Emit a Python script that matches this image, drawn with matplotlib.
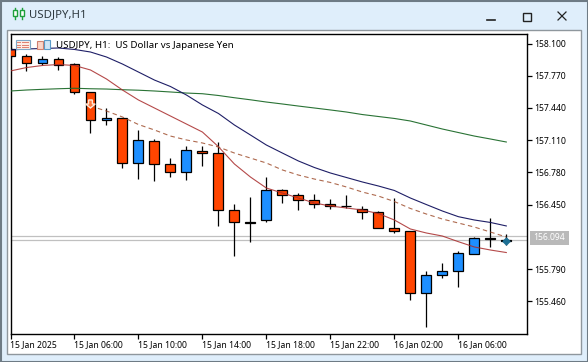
import matplotlib.pyplot as plt
from matplotlib.patches import Rectangle, Polygon
import numpy as np

plt.switch_backend('agg')
plt.rcParams['font.family'] = ['Noto Sans', 'DejaVu Sans']

W, H = 588, 362

# velas H1: apertura, maximo, minimo, cierre
opens = [158.044, 157.972, 157.897, 157.938, 157.887, 157.601, 157.314, 157.335, 156.874, 157.099,
         156.864, 156.782, 157.003, 156.976, 156.393, 156.276, 156.291, 156.598, 156.547, 156.495,
         156.455, 156.434, 156.403, 156.373, 156.209, 156.178, 155.544, 155.728, 155.769, 155.943,
         156.110, 156.082]
highs = [158.060, 157.993, 157.967, 157.962, 157.900, 157.601, 157.443, 157.335, 157.215, 157.123,
         156.925, 157.051, 157.051, 157.089, 156.455, 156.526, 156.731, 156.611, 156.567, 156.557,
         156.506, 156.547, 156.437, 156.390, 156.516, 156.178, 155.769, 155.851, 155.974, 156.120,
         156.311, 156.148]
lows = [157.950, 157.819, 157.875, 157.829, 157.580, 157.187, 157.269, 156.829, 156.710, 156.696,
        156.737, 156.706, 156.850, 156.236, 155.929, 156.072, 156.276, 156.471, 156.393, 156.420,
        156.404, 156.414, 156.301, 156.209, 156.158, 155.472, 155.202, 155.697, 155.605, 155.943,
        156.021, 156.038]
closes = [157.967, 157.897, 157.938, 157.877, 157.601, 157.314, 157.335, 156.874, 157.109, 156.864,
          156.782, 157.007, 156.976, 156.393, 156.270, 156.264, 156.598, 156.547, 156.495, 156.455,
          156.434, 156.434, 156.373, 156.209, 156.178, 155.544, 155.728, 155.769, 155.953, 156.107,
          156.098, 156.094]

# medias moviles
ma_navy = [158.033, 158.044, 158.049, 158.054, 158.039, 158.013, 157.962, 157.890, 157.808, 157.726,
           157.660, 157.573, 157.471, 157.384, 157.266, 157.164, 157.061, 156.979, 156.898, 156.831,
           156.775, 156.729, 156.683, 156.642, 156.596, 156.519, 156.452, 156.386, 156.328, 156.294,
           156.269, 156.233]
ma_red = [157.819, 157.854, 157.875, 157.885, 157.875, 157.829, 157.737, 157.624, 157.522, 157.440,
          157.358, 157.276, 157.194, 157.044, 156.867, 156.734, 156.621, 156.570, 156.519, 156.468,
          156.437, 156.417, 156.396, 156.360, 156.294, 156.202, 156.161, 156.130, 156.072, 156.018,
          155.987, 155.961]
ma_dash = [np.nan, np.nan, np.nan, np.nan, np.nan, 157.460, 157.409, 157.348, 157.271, 157.215,
           157.153, 157.113, 157.082, 157.041, 156.979, 156.928, 156.877, 156.806, 156.754, 156.713,
           156.678, 156.632, 156.580, 156.539, 156.483, 156.412, 156.355, 156.304, 156.263, 156.222,
           156.171, 156.120]
ma_green = [157.614, 157.624, 157.631, 157.637, 157.642, 157.637, 157.634, 157.627, 157.622, 157.614,
            157.604, 157.593, 157.586, 157.568, 157.545, 157.524, 157.501, 157.481, 157.460, 157.440,
            157.420, 157.399, 157.373, 157.353, 157.333, 157.307, 157.266, 157.225, 157.189, 157.153,
            157.123, 157.092]

ytick_vals = [158.100, 157.770, 157.440, 157.110, 156.780, 156.450, 155.790, 155.460]
xtick_idx = [0, 4, 8, 12, 16, 20, 24, 28]
xtick_labels = ['15 Jan 2025', '15 Jan 06:00', '15 Jan 10:00', '15 Jan 14:00',
                '15 Jan 18:00', '15 Jan 22:00', '16 Jan 02:00', '16 Jan 06:00']
bid, ask = 156.094, 156.128


def main():
    fig = plt.figure(figsize=(W / 100, H / 100), dpi=100, facecolor='#dfeefb')

    # marco de la ventana en pixeles
    bg = fig.add_axes([0, 0, 1, 1])
    bg.set_xlim(0, W)
    bg.set_ylim(H, 0)
    bg.axis('off')
    bg.add_patch(Rectangle((0.5, 0.5), W - 1, H - 1, fc='none', ec='#6e7b85', lw=1.5))
    bg.add_patch(Rectangle((6.5, 29.5), 574, 324, fc='white', ec='#8f979d', lw=1))
    bg.text(29, 15, 'USDJPY,H1', fontsize=8.2, color='#2f3a40', va='center')
    # icono de velas del titulo
    for x, y0, y1, w0, w1 in [(15, 10, 16, 8, 19), (22, 10, 16, 8, 19)]:
        bg.plot([x, x], [w0, w1], color='#1fa03c', lw=1)
        bg.add_patch(Rectangle((x - 2, y0), 4, y1 - y0, fc='white', ec='#1fa03c', lw=1, zorder=3))
    # botones
    bg.plot([487, 495], [20, 20], color='#222222', lw=1.2)
    bg.add_patch(Rectangle((522.5, 12.5), 8, 8, fc='none', ec='#222222', lw=1))
    bg.plot([558, 566], [12, 20], color='#222222', lw=0.9)
    bg.plot([558, 566], [20, 12], color='#222222', lw=0.9)

    ax = fig.add_axes([10.5 / W, 1 - 333.5 / H, (527 - 10.5) / W, (333.5 - 33.5) / H])
    ax.set_xlim((10.5 - 10.3) / 16, (527 - 10.3) / 16)
    ax.set_ylim(158.1 - (333.5 - 43.5) * 0.010233, 158.1 + 10 * 0.010233)
    ax.set_facecolor('white')

    x = np.arange(len(opens))

    ax.axhline(bid, color='#c0c0c0', lw=0.9, zorder=1)
    ax.axhline(ask, color='#c0c0c0', lw=0.9, zorder=1)

    # velas
    for i in x:
        up = closes[i] >= opens[i]
        color = '#1e8fff' if up else '#ff4500'
        ax.plot([i, i], [lows[i], highs[i]], color='black', lw=0.9, zorder=2, solid_capstyle='butt')
        bottom = min(opens[i], closes[i])
        height = abs(closes[i] - opens[i])
        ax.add_patch(Rectangle((i - 0.31, bottom), 0.62, height, fc=color, ec='black', lw=0.9, zorder=3))

    ax.plot(x, ma_green, color='#1e6b2a', lw=0.8, zorder=4, alpha=0.95)
    ax.plot(x, ma_navy, color='#12125e', lw=0.8, zorder=4, alpha=0.95)
    ax.plot(x, ma_red, color='#a82a2a', lw=0.8, zorder=4, alpha=0.85)
    ax.plot(x, ma_dash, color='#a05030', lw=0.8, ls=(0, (4, 3)), zorder=4, alpha=0.85)

    # flecha de venta y marca del precio actual
    ax.plot([31], [bid - 0.012], marker='D', ms=3.5, color='#1d6f94', zorder=5)
    ax.add_patch(Polygon([(4.88, 157.522), (5.12, 157.522), (5.12, 157.481), (5.3, 157.481),
                          (5, 157.44), (4.7, 157.481), (4.88, 157.481)],
                         fc='#ff7a40', ec='#ffe8d8', lw=1, zorder=5))

    ax.set_xticks(xtick_idx)
    ax.set_xticklabels(xtick_labels, ha='left')
    ax.set_yticks(ytick_vals)
    ax.set_yticklabels(['%.3f' % v for v in ytick_vals])
    ax.yaxis.tick_right()
    ax.tick_params(axis='both', labelsize=6.2, length=3.5, width=0.9, pad=1.5, color='black', labelcolor='black')
    for s in ax.spines.values():
        s.set_linewidth(1)

    # leyenda
    ax.text(56, 45, 'USDJPY, H1:  US Dollar vs Japanese Yen', fontsize=7.0, va='center',
            transform=bg.transData, zorder=6)
    ax2 = fig.add_axes([0, 0, 1, 1], facecolor='none')
    ax2.set_xlim(0, W)
    ax2.set_ylim(H, 0)
    ax2.axis('off')
    ax2.add_patch(Rectangle((15.5, 40), 14, 9, fc='#fdeee6', ec='#7fa8c8', lw=0.8))
    for yy in [42, 44.5, 47]:
        ax2.plot([22, 28], [yy, yy], color='#e08070', lw=0.7)
        ax2.plot([17, 20], [yy, yy], color='#e08070', lw=0.7)
    ax2.add_patch(Rectangle((37, 41), 6, 8, fc='#fcd5c8', ec='#d08070', lw=0.8))
    ax2.add_patch(Rectangle((44, 40), 6, 9, fc='#cfe5f7', ec='#5a9ac8', lw=0.8))

    # etiqueta del precio actual
    ax2.add_patch(Rectangle((530, 231), 39, 14, fc='#b9b9b9', ec='none'))
    ax2.text(549.5, 238, '%.3f' % bid, color='white', fontsize=6.2, ha='center', va='center')

    fig.savefig('out.png', dpi=100, facecolor=fig.get_facecolor())


if __name__ == "__main__":
    main()
